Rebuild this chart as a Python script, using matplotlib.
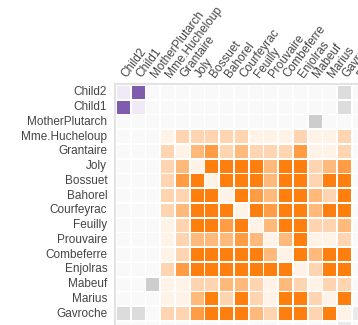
import numpy as np
import matplotlib
matplotlib.use("Agg")
import matplotlib.pyplot as plt
from matplotlib.patches import Rectangle
from matplotlib.colors import to_rgb

# characters in matrix order (last one is cut off by the crop)
names = ["Child2", "Child1", "MotherPlutarch", "Mme.Hucheloup", "Grantaire",
         "Joly", "Bossuet", "Bahorel", "Courfeyrac", "Feuilly", "Prouvaire",
         "Combeferre", "Enjolras", "Mabeuf", "Marius", "Gavroche", "Brujon"]
groups = [10, 10, 9, 8, 8, 8, 8, 8, 8, 8, 8, 8, 8, 8, 8, 8, 4]

# co-occurrence links
src = ["Marius", "Mabeuf", "Mabeuf", "Enjolras", "Enjolras", "Enjolras",
       "Combeferre", "Combeferre", "Combeferre", "Combeferre",
       "Prouvaire", "Prouvaire", "Prouvaire",
       "Feuilly", "Feuilly", "Feuilly", "Feuilly", "Feuilly", "Feuilly",
       "Courfeyrac", "Courfeyrac", "Courfeyrac", "Courfeyrac", "Courfeyrac", "Courfeyrac", "Courfeyrac",
       "Bahorel", "Bahorel", "Bahorel", "Bahorel", "Bahorel", "Bahorel", "Bahorel", "Bahorel",
       "Bossuet", "Bossuet", "Bossuet", "Bossuet", "Bossuet", "Bossuet", "Bossuet", "Bossuet", "Bossuet",
       "Joly", "Joly", "Joly", "Joly", "Joly", "Joly", "Joly", "Joly", "Joly", "Joly",
       "Grantaire", "Grantaire", "Grantaire", "Grantaire", "Grantaire", "Grantaire", "Grantaire", "Grantaire", "Grantaire",
       "MotherPlutarch", "Child1", "Child2", "Child2", "Brujon",
       "Mme.Hucheloup", "Mme.Hucheloup", "Mme.Hucheloup", "Mme.Hucheloup", "Mme.Hucheloup", "Mme.Hucheloup", "Mme.Hucheloup"]
dst = ["Gavroche", "Marius", "Gavroche", "Marius", "Gavroche", "Mabeuf",
       "Enjolras", "Marius", "Gavroche", "Mabeuf",
       "Gavroche", "Enjolras", "Combeferre",
       "Gavroche", "Enjolras", "Prouvaire", "Combeferre", "Mabeuf", "Marius",
       "Marius", "Enjolras", "Combeferre", "Gavroche", "Mabeuf", "Feuilly", "Prouvaire",
       "Combeferre", "Gavroche", "Courfeyrac", "Mabeuf", "Enjolras", "Feuilly", "Prouvaire", "Marius",
       "Marius", "Courfeyrac", "Gavroche", "Bahorel", "Enjolras", "Feuilly", "Prouvaire", "Combeferre", "Mabeuf",
       "Bahorel", "Bossuet", "Gavroche", "Courfeyrac", "Enjolras", "Feuilly", "Prouvaire", "Combeferre", "Mabeuf", "Marius",
       "Bossuet", "Enjolras", "Combeferre", "Courfeyrac", "Joly", "Gavroche", "Bahorel", "Feuilly", "Prouvaire",
       "Mabeuf", "Gavroche", "Gavroche", "Child1", "Gavroche",
       "Bossuet", "Joly", "Grantaire", "Bahorel", "Courfeyrac", "Gavroche", "Enjolras"]
val = [4, 1, 1, 7, 7, 1,
       15, 5, 6, 2,
       1, 4, 2,
       2, 6, 2, 5, 1, 1,
       9, 17, 13, 7, 2, 6, 3,
       5, 5, 6, 2, 4, 3, 2, 1,
       5, 12, 5, 4, 10, 6, 2, 9, 1,
       5, 7, 3, 5, 5, 5, 2, 5, 1, 2,
       3, 3, 1, 2, 2, 1, 1, 1, 1,
       3, 2, 2, 3, 1,
       1, 1, 1, 1, 1, 1, 1]

group_colors = {8: "#ff7f0e", 10: "#5a2d96"}
other_color = "#bfbfbf"

n = len(names)
idx = {nm: i for i, nm in enumerate(names)}
m = np.zeros((n, n))
for s, t, v in zip(src, dst, val):
    m[idx[s], idx[t]] += v
    m[idx[t], idx[s]] += v

fig = plt.figure(figsize=(3.58, 3.25), dpi=100)
pitch = 14.75
x0, y0 = 116, 85
ax = fig.add_axes([x0 / 358, (325 - y0 - n * pitch) / 325, n * pitch / 358, n * pitch / 325])
ax.set_xlim(0, n)
ax.set_ylim(n, 0)
ax.axis("off")

white = np.array([1.0, 1.0, 1.0])
for i in range(n):
    for j in range(n):
        if groups[i] == groups[j] and groups[i] in group_colors:
            base = np.array(to_rgb(group_colors[groups[i]]))
        else:
            base = np.array(to_rgb(other_color))
        a = 0.1 + 0.9 * min(m[i, j], 4) / 4
        col = base * a + white * (1 - a)
        ax.add_patch(Rectangle((j + 0.06, i + 0.06), 0.88, 0.88, facecolor=col, edgecolor="none"))

# faint frame along the top and left edge
ax.plot([-0.08, -0.08], [n, -0.08], color="#e3e3e3", lw=1.5, clip_on=False)
ax.plot([-0.08, n], [-0.08, -0.08], color="#e3e3e3", lw=1.5, clip_on=False)

font = ["Liberation Sans", "DejaVu Sans"]
for i, nm in enumerate(names):
    if i < 16:
        ax.text(-0.6, i + 0.5, nm, ha="right", va="center", fontsize=8.5,
                color="#444444", family=font, clip_on=False)
    ax.text(i + 0.55, -0.6, nm, ha="left", va="center", rotation=53,
            rotation_mode="anchor", fontsize=8.5, color="#444444", family=font, clip_on=False)

fig.savefig("out.png", dpi=100)
